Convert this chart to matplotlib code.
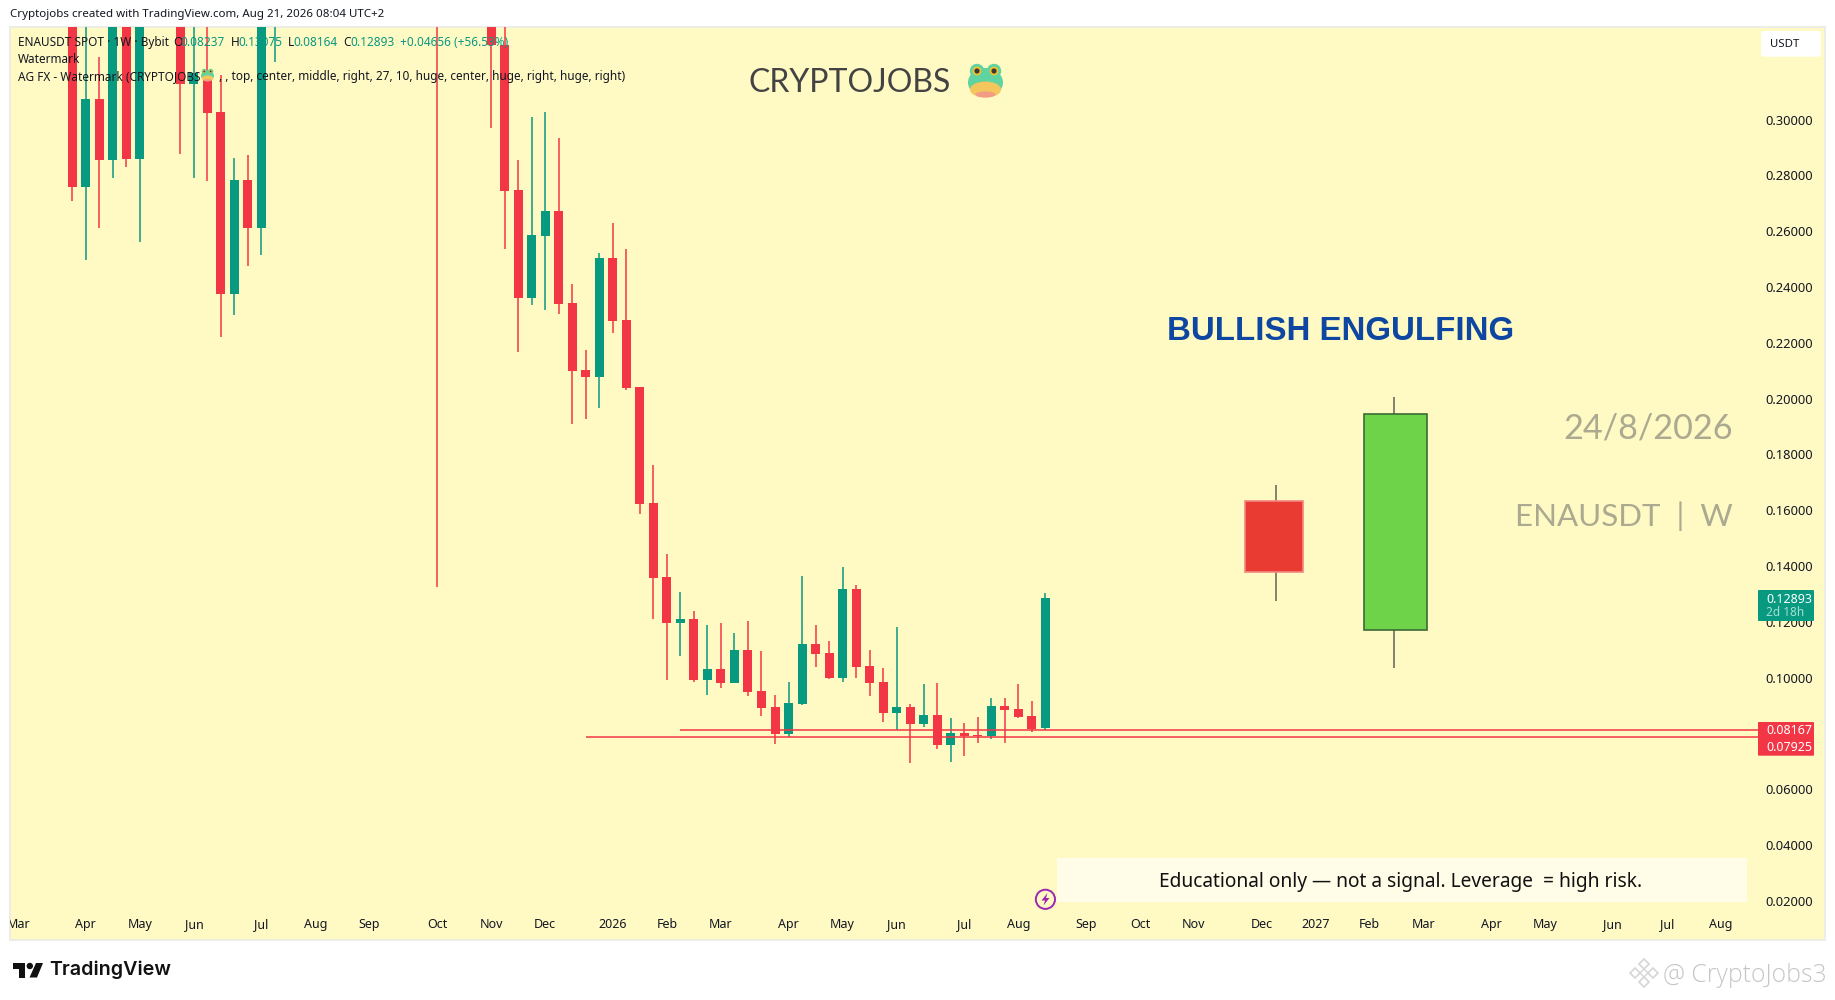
import matplotlib

matplotlib.use("Agg")
import matplotlib.pyplot as plt
import numpy as np
from matplotlib.patches import Circle, Ellipse, FancyBboxPatch, Polygon, Rectangle
from matplotlib.transforms import Bbox, ScaledTranslation

WIDTH, HEIGHT = 1835, 1000
UP = "#089981"
DOWN = "#F23645"
PANEL = "#FFF9C4"
INK = "#131722"
FONT = "Noto Sans"

# weekly candles, nan = scrolled out of the visible price range
opens = [0.36, 0.27634, 0.30778, 0.28591, 0.36, 0.28638, np.nan, np.nan, 0.36, 0.31326,
         0.31477, 0.30312, 0.23788, 0.27874, 0.26154, 0.345, np.nan, np.nan, np.nan, np.nan,
         np.nan, np.nan, np.nan, np.nan, np.nan, np.nan, np.nan, 0.40, np.nan, np.nan,
         np.nan, 0.36, 0.32713, 0.27516, 0.23645, 0.25867, 0.26763, 0.23466, 0.21064, 0.20813,
         0.25079, 0.22856, 0.20455, 0.16297, 0.13645, 0.11996, 0.1214, 0.09953, 0.10348, 0.09846,
         0.11029, 0.09559, 0.08986, 0.08018, 0.09093, 0.11244, 0.10921, 0.10025, 0.13215, 0.10455,
         0.09882, 0.08771, 0.08986, 0.08376, 0.08699, 0.07624, 0.08054, 0.07982, 0.07946, 0.09022,
         0.08914, 0.08663, 0.08237]
highs = [0.37, 0.36, 0.32283, 0.37, 0.37, 0.37, np.nan, np.nan, 0.37, 0.36,
         0.36, 0.31638, 0.28663, 0.2877, 0.37, 0.37, np.nan, np.nan, np.nan, np.nan,
         np.nan, np.nan, np.nan, np.nan, np.nan, np.nan, np.nan, 0.42, np.nan, np.nan,
         np.nan, 0.37, 0.35, 0.28591, 0.30132, 0.30312, 0.2938, 0.24147, 0.21781, 0.25258,
         0.26333, 0.25401, 0.20455, 0.1766, 0.1447, 0.13107, 0.12426, 0.11925, 0.11996, 0.11638,
         0.12068, 0.10993, 0.09416, 0.09882, 0.13681, 0.11925, 0.11351, 0.14004, 0.13358, 0.11029,
         0.10384, 0.11853, 0.09093, 0.0981, 0.09846, 0.08591, 0.08412, 0.08627, 0.09308, 0.09308,
         0.0981, 0.09201, 0.13075]
lows = [0.27122, 0.25018, 0.26154, 0.27957, 0.28351, 0.25652, np.nan, np.nan, 0.28806, 0.27957,
        0.27839, 0.22247, 0.23036, 0.24792, 0.25186, 0.32104, np.nan, np.nan, np.nan, np.nan,
        np.nan, np.nan, np.nan, np.nan, np.nan, np.nan, np.nan, 0.13287, np.nan, np.nan,
        np.nan, 0.29738, 0.25401, 0.21709, 0.23394, 0.23215, 0.23072, 0.19129, 0.19308, 0.19702,
        0.2239, 0.20347, 0.15903, 0.1214, 0.09953, 0.10814, 0.09882, 0.09416, 0.09667, 0.09846,
        0.0938, 0.08663, 0.0766, 0.0791, 0.09057, 0.10419, 0.09989, 0.09882, 0.10025, 0.0938,
        0.08448, 0.0816, 0.06979, 0.08269, 0.0748, 0.07014, 0.07229, 0.07695, 0.07839, 0.07695,
        0.08591, 0.0809, 0.08164]
closes = [0.27634, 0.30778, 0.28591, 0.36, 0.28638, 0.36, np.nan, np.nan, 0.31326, 0.31709,
          0.30276, 0.23788, 0.27874, 0.26154, 0.36, 0.36, np.nan, np.nan, np.nan, np.nan,
          np.nan, np.nan, np.nan, np.nan, np.nan, np.nan, np.nan, 0.37, np.nan, np.nan,
          np.nan, 0.32713, 0.2748, 0.23645, 0.25903, 0.26763, 0.2343, 0.21029, 0.20813, 0.25079,
          0.22821, 0.20419, 0.16262, 0.13609, 0.11996, 0.1214, 0.09953, 0.10348, 0.09846, 0.11029,
          0.09523, 0.0895, 0.08018, 0.09129, 0.11244, 0.10885, 0.10025, 0.13215, 0.10419, 0.09846,
          0.08771, 0.08986, 0.08376, 0.08699, 0.07624, 0.08054, 0.07946, 0.07946, 0.09022, 0.08878,
          0.08627, 0.08196, 0.12893]

# horizontal levels: price, first week
level_prices = [0.08167, 0.07925]
level_starts = [45, 38]

# the two illustration candles, red then green
demo_weeks = [88.95, 97.92]
demo_wicks = [89.1, 97.8]
demo_tops = [0.1638, 0.19487]
demo_bottoms = [0.13824, 0.11746]
demo_highs = [0.16943, 0.20107]
demo_lows = [0.12796, 0.10384]
demo_widths = [4.31, 4.62]
demo_fills = ["#EA3B32", "#6FD349"]
demo_edges = ["#F2877F", "#3B6B35"]

price_ticks = [round(0.02 * i, 2) for i in range(1, 16)]
month_ticks = [-4, 1, 5, 9, 14, 18, 22, 27, 31, 35, 40, 44, 48, 53, 57, 61, 66, 70, 75, 79, 83, 88,
               92, 96, 100, 105, 109, 114, 118, 122]
month_labels = ["Mar", "Apr", "May", "Jun", "Jul", "Aug", "Sep", "Oct", "Nov", "Dec", "2026", "Feb",
                "Mar", "Apr", "May", "Jun", "Jul", "Aug", "Sep", "Oct", "Nov", "Dec", "2027", "Feb",
                "Mar", "Apr", "May", "Jun", "Jul", "Aug"]

plt.rcParams["font.family"] = [FONT, "DejaVu Sans"]

fig = plt.figure(figsize=(WIDTH / 100, HEIGHT / 100), dpi=100, facecolor="white")


def fig_rect(left, top, right, bottom):
    return [left / WIDTH, 1 - bottom / HEIGHT, (right - left) / WIDTH, (bottom - top) / HEIGHT]


# pane background, also behind both scales
x0, y0, w0, h0 = fig_rect(10, 27, 1825, 940)
fig.add_artist(Rectangle((x0, y0), w0, h0, transform=fig.transFigure, facecolor=PANEL,
                         edgecolor="#EDEDE6", linewidth=1.5, zorder=-1))

ax = fig.add_axes(fig_rect(10, 27, 1758, 912), facecolor="none")
ax.set_xlim(-4.61, 124.74)
ax.set_ylim(0.01638, 0.33358)
for spine in ax.spines.values():
    spine.set_visible(False)

weeks = np.arange(len(opens))
o = np.array(opens)
c = np.array(closes)
colors = [UP if b >= a else DOWN for a, b in zip(o, c)]
ax.vlines(weeks, lows, highs, colors=colors, linewidth=1.1, zorder=2)
ax.bar(weeks, np.abs(c - o), bottom=np.minimum(o, c), width=0.666, color=colors, linewidth=0, zorder=3)

for price, start in zip(level_prices, level_starts):
    ax.hlines(price, start, ax.get_xlim()[1], colors=DOWN, linewidth=1.1, zorder=4)

ax.vlines(demo_wicks, demo_lows, demo_highs, colors="#6E6E60", linewidth=1.2, zorder=2)
for i in range(2):
    ax.bar(demo_weeks[i], demo_tops[i] - demo_bottoms[i], bottom=demo_bottoms[i], width=demo_widths[i],
           color=demo_fills[i], edgecolor=demo_edges[i], linewidth=1.2, zorder=3)

ax.yaxis.tick_right()
ax.set_yticks(price_ticks)
ax.set_yticklabels([f"{p:.5f}" for p in price_ticks], fontsize=9.3, color=INK)
ax.set_xticks(month_ticks)
ax.set_xticklabels(month_labels, fontsize=9, color=INK)
ax.tick_params(axis="both", length=0)
ax.tick_params(axis="y", pad=5.3)
ax.tick_params(axis="x", pad=4.6)
nudge = ScaledTranslation(0, 1 / 100, fig.dpi_scale_trans)
for label in ax.get_yticklabels():
    label.set_transform(label.get_transform() + nudge)
for label in ax.get_xticklabels():
    if label.get_text() in ("2026", "2027"):
        label.set_fontweight("bold")
# first month label is cut by the pane edge
first = ax.get_xticklabels()[0]
first.set_clip_on(True)
first.set_clip_box(Bbox.from_extents(10, 0, WIDTH, HEIGHT))

# overlay in image pixels for everything that is not a price mark
ov = fig.add_axes([0, 0, 1, 1], facecolor="none", zorder=5)
ov.set_xlim(0, WIDTH)
ov.set_ylim(HEIGHT, 0)
ov.axis("off")


def put(x, y, text, size=8.5, color=INK, ha="left", **kw):
    return ov.text(x, y, text, fontsize=size, color=color, ha=ha, va="center", **kw)


def draw_frog(cx, cy, s):
    mint = "#5FD3A0"
    for side in (-1, 1):
        ov.add_patch(Circle((cx + side * 8.5 * s, cy - 9.5 * s), 7.2 * s, color=mint, lw=0))
    ov.add_patch(Ellipse((cx, cy + 2 * s), 35 * s, 29 * s, color=mint, lw=0))
    ov.add_patch(Ellipse((cx, cy + 9 * s), 31 * s, 16 * s, color="#F4C65C", lw=0))
    ov.add_patch(Ellipse((cx, cy + 14 * s), 20 * s, 6 * s, color="#F39C85", lw=0))
    for side in (-1, 1):
        ov.add_patch(Circle((cx + side * 8.5 * s, cy - 9.5 * s), 4.4 * s, color="#F2C230", lw=0))
        ov.add_patch(Circle((cx + side * 8.5 * s, cy - 9.5 * s), 2.6 * s, color="#3D3A35", lw=0))


# header and legend
put(10, 15, "Cryptojobs created with TradingView.com, Aug 21, 2026 08:04 UTC+2", size=8.3)
put(18, 42.5, "ENAUSDT SPOT · 1W · Bybit")
for x, head, x2, val in [(173, "O", 180, "0.08237"), (230.4, "H", 238, "0.13075"),
                         (288, "L", 293.7, "0.08164"), (343, "C", 350.4, "0.12893")]:
    put(x, 42.5, head)
    put(x2, 42.5, val, color=UP)
put(399.5, 42.5, "+0.04656 (+56.53%)", color=UP)
put(18, 59.5, "Watermark")
put(18, 76.8, "AG FX - Watermark (CRYPTOJOBS")
draw_frog(207.5, 75, 0.37)
put(219, 76.8, ", , top, center, middle, right, 27, 10, huge, center, huge, right, huge, right)")

# watermark texts
put(748, 83, "CRYPTOJOBS", size=23, color="#434343", family="Lato")
draw_frog(985.5, 80.5, 1.0)
put(1341, 331, "BULLISH ENGULFING", size=23.8, color="#0D47A1", ha="center",
    family="Liberation Sans", fontweight="bold")
put(1733, 429, "24/8/2026", size=24.6, color="#ABA98F", ha="right", family="Lato")
put(1733, 516, "ENAUSDT  |  W", size=22.5, color="#ABA98F", ha="right", family="Lato")

# disclaimer box
ov.add_patch(Rectangle((1056.7, 858), 690.3, 43.7, facecolor="#FFFCE8", edgecolor="none"))
put(1401, 881.5, "Educational only — not a signal. Leverage  = high risk.", size=13.8, color="#111111", ha="center")

# lightning marker
ov.add_patch(Circle((1045.4, 899.3), 9.6, facecolor=PANEL, edgecolor="#9C27B0", linewidth=1.4))
ov.add_patch(Polygon([(1047.5, 893), (1041.5, 900.5), (1045, 900.5), (1043.5, 905.5), (1049.5, 898),
                      (1046, 898)], closed=True, facecolor="#9C27B0", edgecolor="none"))

# currency button
ov.add_patch(FancyBboxPatch((1763, 33), 56, 21.7, boxstyle="round,pad=2,rounding_size=3",
                            facecolor="white", edgecolor="none"))
put(1770, 44.7, "USDT", size=8.2)

# price tags
ov.add_patch(FancyBboxPatch((1758, 590), 56, 31, boxstyle="round,pad=0,rounding_size=1",
                            facecolor=UP, edgecolor="none"))
put(1766, 599.3, "0.12893", size=9, color="white", fontweight="bold")
put(1766, 612.3, "2d 18h", color="#A6E0D3")
ov.add_patch(FancyBboxPatch((1758, 722), 56, 33.7, boxstyle="round,pad=0,rounding_size=1",
                            facecolor=DOWN, edgecolor="none"))
put(1766, 730.7, "0.08167", size=9, color="white", fontweight="bold")
put(1766, 747.7, "0.07925", size=9, color="white", fontweight="bold")

# footer logo
ov.add_patch(Polygon([(12.6, 963), (25, 963), (25, 977.5), (18.8, 977.5), (18.8, 968.5), (12.6, 968.5)],
                     closed=True, facecolor="#111111", edgecolor="none"))
ov.add_patch(Circle((29.8, 966), 3.2, facecolor="#111111", edgecolor="none"))
ov.add_patch(Polygon([(36, 963), (43, 963), (37, 977.5), (29.5, 977.5)], closed=True,
                     facecolor="#111111", edgecolor="none"))
put(49, 970, "TradingView", size=14.2, color="#111111", family="Inter", fontweight="semibold")

# repost stamp
for dx, dy in [(0, -9), (-9, 0), (9, 0), (0, 9)]:
    ov.add_patch(Polygon([(1644 + dx, 973 + dy - 5), (1644 + dx + 5, 973 + dy), (1644 + dx, 973 + dy + 5),
                          (1644 + dx - 5, 973 + dy)], closed=True, facecolor="none", edgecolor="#D6D6D6", linewidth=1.2))
ov.add_patch(Polygon([(1644, 969), (1648, 973), (1644, 977), (1640, 973)], closed=True,
                     facecolor="none", edgecolor="#D6D6D6", linewidth=1))
put(1827, 976, "@ CryptoJobs3", size=17.8, color="#C6C6C6", ha="right", family="Open Sans", fontweight="light")

fig.savefig("out.png", dpi=100, facecolor="white")
plt.close(fig)
